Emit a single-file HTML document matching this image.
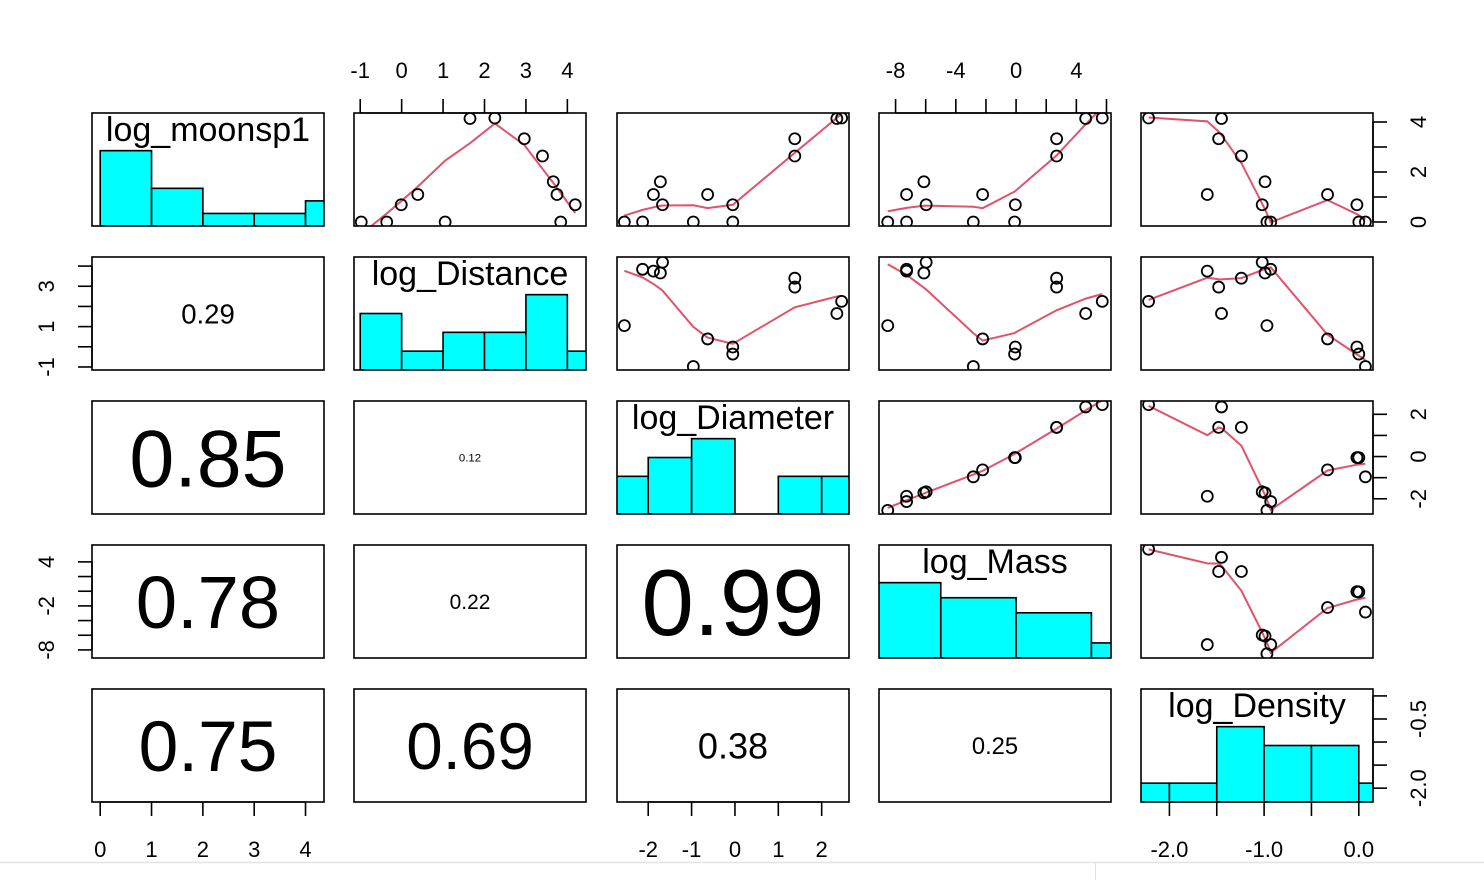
<!DOCTYPE html>
<html><head><meta charset="utf-8"><style>
html,body{margin:0;padding:0;background:#fff;width:1484px;height:880px;overflow:hidden}
svg text{font-family:"Liberation Sans",Arial,sans-serif}
</style></head><body>
<svg id="plot" width="1484" height="880" viewBox="0 0 1484 880" xmlns="http://www.w3.org/2000/svg"></svg>
<script>
const varNames = ["log_moonsp1","log_Distance","log_Diameter","log_Mass","log_Density"];
const moonsp1  = [0, 0, 0.69, 1.1, 0, 4.16, 4.14, 3.33, 2.64, 1.61, 1.1, 0, 0.69];
const distance = [-0.975, -0.36, -0.01, 0.39, 1.05, 2.25, 1.65, 2.96, 3.4, 3.66, 3.75, 3.84, 4.19];
const diameter = [-0.96, -0.05, -0.05, -0.63, -2.55, 2.46, 2.35, 1.38, 1.38, -1.72, -1.88, -2.13, -1.67];
const mass     = [-2.84, -0.1, -0.05, -2.22, -8.52, 5.72, 4.62, 2.69, 2.69, -6.12, -7.27, -7.27, -5.97];
const density  = [0.07, 0.0, -0.02, -0.33, -0.97, -2.22, -1.45, -1.48, -1.24, -0.99, -1.6, -0.93, -1.02];
const corLabels = [["","","","",""],["0.29","","","",""],["0.85","0.12","","",""],["0.78","0.22","0.99","",""],["0.75","0.69","0.38","0.25",""]];
const corValues = [[0,0,0,0,0],[0.29,0,0,0,0],[0.85,0.12,0,0,0],[0.78,0.22,0.99,0,0],[0.75,0.69,0.38,0.25,0]];
const histBreaks = [[0,1,2,3,4,5],[-1,0,1,2,3,4,5],[-3,-2,-1,0,1,2,3],[-10,-5,0,5,10],[-2.5,-2,-1.5,-1,-0.5,0,0.5]];
const ranges = [[-0.16,4.36],[-1.15,4.45],[-2.72,2.63],[-9.1,6.3],[-2.3,0.15]];
const tickVals = [[0,1,2,3,4],[-1,0,1,2,3,4],[-2,-1,0,1,2],[-8,-6,-4,-2,0,2,4,6],[-2,-1.5,-1,-0.5,0]];
const tickLabs = [["0","1","2","3","4"],["-1","0","1","2","3","4"],["-2","-1","0","1","2"],["-8","","-4","","0","","4",""],["-2.0","","-1.0","","0.0"]];
const rowTickVals = [[0,1,2,3,4],[-1,0,1,2,3,4],[-2,-1,0,1,2],[-8,-6,-4,-2,0,2,4],[-2,-1.5,-1,-0.5,0]];
const rowTickLabs = [["0","","2","","4"],["-1","","1","","3",""],["-2","","0","","2"],["-8","","","-2","","","4"],["-2.0","","","-0.5",""]];
const data = [moonsp1, distance, diameter, mass, density];

const NS="http://www.w3.org/2000/svg";
const svg=document.getElementById('plot');
const colL=[92,354,617,879,1141], W=232, rowT=[113,257,401,545,689], H=113;
function el(t,a,p){const e=document.createElementNS(NS,t);for(const k in a)e.setAttribute(k,a[k]);(p||svg).appendChild(e);return e;}
function sx(j,v){const r=ranges[j];return colL[j]+(v-r[0])/(r[1]-r[0])*W;}
function sy(i,v){const r=ranges[i];return rowT[i]+H-(v-r[0])/(r[1]-r[0])*H;}

function lowess(x,y,f,iter){
  const n=x.length, idx=x.map((_,i)=>i).sort((a,b)=>x[a]-x[b]);
  const xs=idx.map(i=>x[i]), ys=idx.map(i=>y[i]);
  const r=Math.max(2,Math.min(n,Math.floor(f*n+1e-7)));
  let rw=new Array(n).fill(1), fit=new Array(n).fill(0);
  for(let it=0;it<=iter;it++){
    for(let i=0;i<n;i++){
      const d=xs.map(v=>Math.abs(v-xs[i])).slice().sort((a,b)=>a-b);
      let h=Math.max(d[r-1],1e-9);
      let sw=0,sx_=0,sy_=0,sxx=0,sxy=0;
      for(let k=0;k<n;k++){
        let u=Math.abs(xs[k]-xs[i])/h; let w=u<1?Math.pow(1-u*u*u,3):0; w*=rw[k];
        sw+=w;sx_+=w*xs[k];sy_+=w*ys[k];sxx+=w*xs[k]*xs[k];sxy+=w*xs[k]*ys[k];
      }
      if(sw<=0){fit[i]=ys[i];continue;}
      const mx=sx_/sw,my=sy_/sw,vx=sxx/sw-mx*mx;
      fit[i]= vx>1e-9*(1+mx*mx)? my+(sxy/sw-mx*my)/vx*(xs[i]-mx) : my;
    }
    if(it===iter)break;
    const res=ys.map((v,k)=>Math.abs(v-fit[k]));
    const s=res.slice().sort((a,b)=>a-b); const med=(s[Math.floor((n-1)/2)]+s[Math.ceil((n-1)/2)])/2;
    const c=6*med; if(c<1e-9)break;
    rw=res.map(v=>{const u=v/c;return u<1?Math.pow(1-u*u,2):0;});
  }
  return xs.map((v,k)=>[v,fit[k]]);
}

for(let i=0;i<5;i++)for(let j=0;j<5;j++){
  const cp=el('clipPath',{id:'c'+i+j});
  el('rect',{x:colL[j],y:rowT[i],width:W,height:H},cp);
}

for(let i=0;i<5;i++){
  for(let j=0;j<5;j++){
    const g=el('g',{'clip-path':'url(#c'+i+j+')'});
    
    
    if(i===j){
      const br=histBreaks[j], v=data[j];
      const counts=[];for(let b=0;b<br.length-1;b++)counts.push(v.filter((x,k)=>b===0?(x>=br[b]&&x<=br[b+1]):(x>br[b]&&x<=br[b+1])).length);
      const mx=Math.max(...counts);
      counts.forEach((c,b)=>{
        if(c===0)return;
        const x0=sx(j,br[b]),x1=sx(j,br[b+1]),hh=c/mx/1.5*H;
        const r=el('rect',{x:x0,y:rowT[i]+H-hh,width:x1-x0,height:hh,fill:'#00FFFF',stroke:'#000','stroke-width':1.6},g);
        
        
      });
      const t=el('text',{x:colL[j]+W/2,y:rowT[i]+28,'font-size':34,'text-anchor':'middle',fill:'#000'});
      t.textContent=varNames[j];
      
      
    } else if(i<j){
      const xv=data[j], yv=data[i];
      const lw=lowess(xv,yv,2/3,3);
      const pts=lw.map(p=>sx(j,p[0]).toFixed(1)+','+sy(i,p[1]).toFixed(1)).join(' ');
      const pl=el('polyline',{points:pts,fill:'none',stroke:'#DF536B','stroke-width':2},g);
      
      
      xv.forEach((x,k)=>{
        const c=el('circle',{cx:sx(j,x),cy:sy(i,yv[k]),r:5.5,fill:'none',stroke:'#000','stroke-width':1.8},g);
        
        
      });
    } else {
      const r=corValues[i][j];
      const t=el('text',{x:colL[j]+W/2,y:rowT[i]+H/2+0.358*95*r,'font-size':95*r,'text-anchor':'middle',fill:'#000'});
      t.textContent=corLabels[i][j];
      
      
    }
    const b=el('rect',{x:colL[j],y:rowT[i],width:W,height:H,fill:'none',stroke:'#000','stroke-width':1.6});
    
    
  }
}

function hAxis(j,top){
  const y0= top? rowT[0] : rowT[4]+H, d= top?-14:14;
  const g=el('g',{});
  
  
  const tv=tickVals[j], tl=tickLabs[j];
  el('line',{x1:sx(j,tv[0]),x2:sx(j,tv[tv.length-1]),y1:y0,y2:y0,stroke:'#000','stroke-width':1.6},g);
  tv.forEach((v,k)=>{
    if(sx(j,v)>colL[j]+W+1)return;
    el('line',{x1:sx(j,v),x2:sx(j,v),y1:y0,y2:y0+d,stroke:'#000','stroke-width':1.6},g);
    if(tl[k]){const t=el('text',{x:sx(j,v),y:top?78:857,'font-size':22,'text-anchor':'middle'},g);t.textContent=tl[k];}
  });
}
function vAxis(i,left){
  const x0= left? colL[0] : colL[4]+W, d= left?-14:14;
  const g=el('g',{});
  
  
  const tv=rowTickVals[i], tl=rowTickLabs[i];
  el('line',{x1:x0,x2:x0,y1:sy(i,tv[0]),y2:sy(i,tv[tv.length-1]),stroke:'#000','stroke-width':1.6},g);
  tv.forEach((v,k)=>{
    el('line',{x1:x0,x2:x0+d,y1:sy(i,v),y2:sy(i,v),stroke:'#000','stroke-width':1.6},g);
    if(tl[k]){const tx=left?54:1426,ty=sy(i,v);
      const t=el('text',{x:tx,y:ty,'font-size':22,'text-anchor':'middle',transform:'rotate(-90 '+tx+' '+ty+')'},g);t.textContent=tl[k];}
  });
}
hAxis(1,true);hAxis(3,true);
hAxis(0,false);hAxis(2,false);hAxis(4,false);
vAxis(1,true);vAxis(3,true);
vAxis(0,false);vAxis(2,false);vAxis(4,false);

const sep=el('line',{x1:0,x2:1484,y1:862.5,y2:862.5,stroke:'#e3e3e3','stroke-width':1.5});


const sep2=el('line',{x1:1095.5,x2:1095.5,y1:863,y2:880,stroke:'#e3e3e3','stroke-width':1});


</script>
</body></html>
